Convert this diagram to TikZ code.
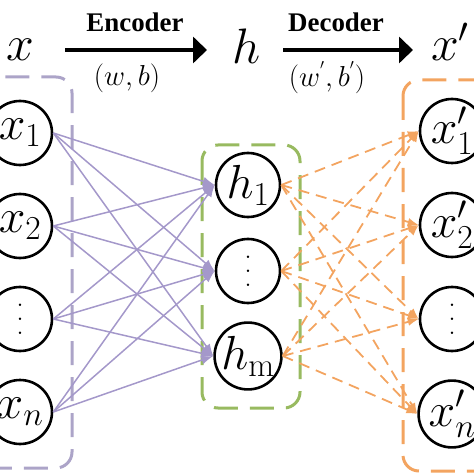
\RequirePackage{fix-cm}
\documentclass[tikz,border=0pt]{standalone}
\usepackage{fontspec}
\usetikzlibrary{arrows.meta}
\newfontfamily\lsb{Liberation Serif}
\definecolor{encC}{RGB}{164,152,202}
\definecolor{encBox}{RGB}{172,164,200}
\definecolor{grnBox}{RGB}{152,186,96}
\definecolor{decC}{RGB}{243,164,96}
\newcommand\vdts{\vbox{\baselineskip=14bp\lineskiplimit=0pt\hbox{.}\hbox{.}\hbox{.}}}
\begin{document}
\begin{tikzpicture}[x=1bp,y=-1bp,
  neuron/.style={circle,draw=black,line width=2.6bp,minimum size=64bp,inner sep=0pt,font=\fontsize{48}{48}\selectfont},
  dotsnode/.style={neuron,font=\fontsize{30}{30}\selectfont},
  encarrow/.style={draw=encC,line width=1.5bp,-{Latex[length=12bp,width=9bp]}},
  decarrow/.style={draw=decC,line width=1.8bp,dash pattern=on 11bp off 7bp,-{Latex[length=11bp,width=8bp]}},
  groupbox/.style={line width=3bp,dash pattern=on 24bp off 12bp,rounded corners=16bp},
  bigsym/.style={font=\fontsize{50}{50}\selectfont,inner sep=0pt,anchor=base},
  stagelbl/.style={font=\fontsize{27}{27}\selectfont\lsb\bfseries,inner sep=0pt,anchor=base},
  paramlbl/.style={font=\fontsize{29}{29}\selectfont,inner sep=0pt,anchor=base},
  mainarrow/.style={line width=3.5bp,-{Triangle[length=14bp,width=26bp]}}
]
\useasboundingbox (0,0) rectangle (474,474);
\clip (0,0) rectangle (474,474);
% group boxes
\draw[groupbox,draw=encBox] (-40,77) rectangle (72,468);
\draw[groupbox,draw=grnBox] (202,145) rectangle (300,408);
\draw[groupbox,draw=decC] (403,80) rectangle (520,471);
% top row
\node[bigsym] (X) at (20,61) {$x$};
\node[bigsym] (H) at (247,64) {$h$};
\node[bigsym,anchor=base west] (XP) at (431,61) {$x^{\prime}$};
\coordinate (e1) at (65,50);
\coordinate (e2) at (207,50);
\coordinate (d1) at (283,50);
\coordinate (d2) at (413,50);
\draw[mainarrow] (e1) -- (e2);
\draw[mainarrow] (d1) -- (d2);
\node[stagelbl] (enc) at (135,32) {Encoder};
\node[stagelbl] (dec) at (336,32) {Decoder};
\node[paramlbl] (wb) at (127,86) {$(w,b)$};
\node[paramlbl] (wbp) at (327,87) {$(w^{'},b^{'})$};
% input layer
\node[neuron] (x1) at (20,133) {$x_1$};
\node[neuron] (x2) at (20,226) {$x_2$};
\node[dotsnode] (x3) at (20,319) {\vdts};
\node[neuron] (x4) at (20,412) {$x_n$};
% hidden layer
\node[neuron] (h1) at (248,185) {$h_1$};
\node[dotsnode] (h2) at (248,271) {\vdts};
\node[neuron] (h3) at (248,356) {$h_{\mathrm{m}}$};
% output layer
\node[neuron] (y1) at (452,131) {$x_1^{\prime}$};
\node[neuron] (y2) at (452,225) {$x_2^{\prime}$};
\node[dotsnode] (y3) at (452,319) {\vdts};
\node[neuron] (y4) at (452,414) {$x_n^{\prime}$};
% connectors
\foreach \i in {1,2,3,4}{
  \foreach \j in {1,2,3}{
    \draw[encarrow] (x\i.east) -- (h\j.west);
    \draw[decarrow] (h\j.east) -- (y\i.west);
  }
}
\end{tikzpicture}
\end{document}
